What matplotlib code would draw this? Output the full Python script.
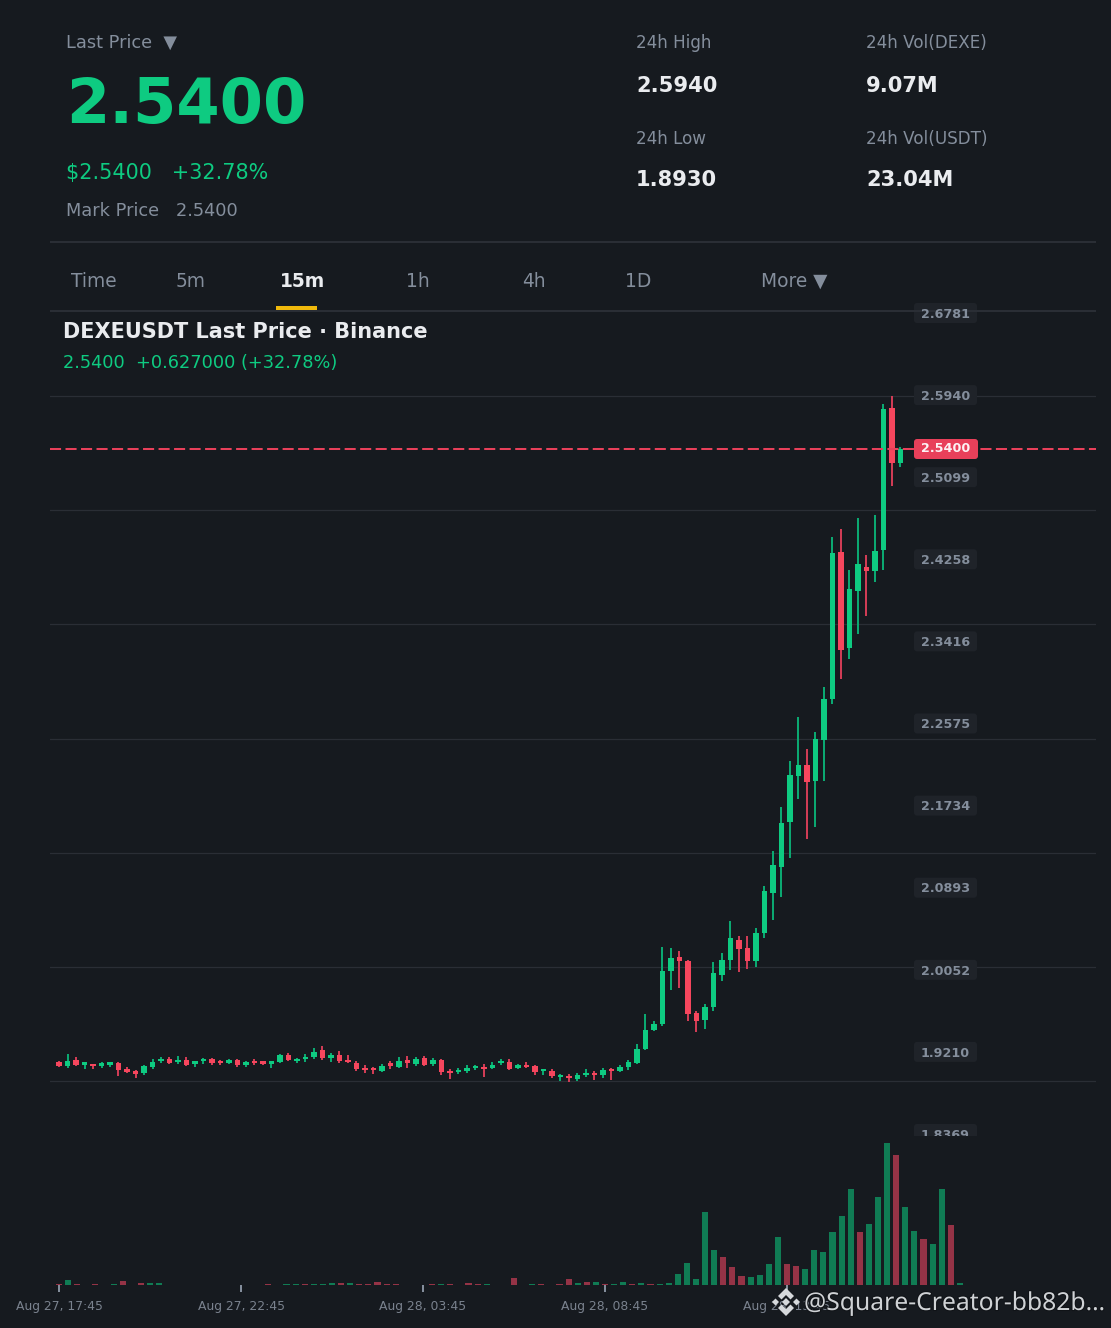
import matplotlib
matplotlib.use("Agg")
import matplotlib.pyplot as plt
import matplotlib.patheffects as path_effects
from matplotlib.lines import Line2D
from matplotlib.patches import FancyBboxPatch, Polygon, Rectangle
from matplotlib.transforms import Affine2D
import numpy as np

W, H = 1111, 1328
BG = "#161a1f"
GRID = "#2a2e35"
GRAY = "#848e9c"
WHITE = "#eaecef"
GREEN = "#0ecb81"
RED = "#f6465d"

# 15m candles
opens = [1.9135, 1.9094, 1.9156, 1.9105, 1.9115, 1.9094, 1.9105, 1.9125, 1.9064, 1.9043,
         1.9023, 1.9084, 1.9146, 1.9166, 1.9135, 1.9156, 1.9115, 1.9146, 1.9166, 1.9146,
         1.9125, 1.9156, 1.9105, 1.9146, 1.9146, 1.9115, 1.9135, 1.9207, 1.9146, 1.9166,
         1.9186, 1.9258, 1.9176, 1.9207, 1.9156, 1.9125, 1.9074, 1.9074, 1.9043, 1.9125,
         1.9084, 1.9156, 1.9115, 1.9176, 1.9115, 1.9156, 1.9043, 1.9033, 1.9043, 1.9074,
         1.9084, 1.9074, 1.9125, 1.9135, 1.9074, 1.9105, 1.9094, 1.9043, 1.9043, 1.8982,
         1.8992, 1.8961, 1.9002, 1.9023, 1.9002, 1.9064, 1.9043, 1.9084, 1.9125, 1.9268,
         1.9462, 1.9523, 2.0065, 2.0208, 2.0167, 1.9636, 1.9564, 1.9697, 2.0024, 2.0178,
         2.0382, 2.0300, 2.0167, 2.0454, 2.0862, 2.1128, 2.1588, 2.2058, 2.2170, 2.2007,
         2.2426, 2.2845, 2.4347, 2.3366, 2.3949, 2.4194, 2.4153, 2.4368, 2.5819, 2.5257]
highs = [1.9146, 1.9217, 1.9183, 1.9135, 1.9115, 1.9135, 1.9135, 1.9135, 1.9084, 1.9054,
         1.9105, 1.9166, 1.9186, 1.9186, 1.9197, 1.9186, 1.9146, 1.9176, 1.9176, 1.9156,
         1.9166, 1.9166, 1.9146, 1.9166, 1.9146, 1.9146, 1.9217, 1.9227, 1.9176, 1.9217,
         1.9278, 1.9299, 1.9227, 1.9248, 1.9207, 1.9146, 1.9105, 1.9084, 1.9115, 1.9146,
         1.9186, 1.9197, 1.9186, 1.9197, 1.9176, 1.9166, 1.9064, 1.9074, 1.9105, 1.9105,
         1.9115, 1.9135, 1.9166, 1.9166, 1.9115, 1.9135, 1.9105, 1.9064, 1.9064, 1.9013,
         1.9013, 1.9023, 1.9064, 1.9043, 1.9074, 1.9074, 1.9105, 1.9156, 1.9319, 1.9626,
         1.9554, 2.0310, 2.0300, 2.0270, 2.0178, 1.9656, 1.9728, 2.0157, 2.0249, 2.0576,
         2.0423, 2.0423, 2.0505, 2.0934, 2.1292, 2.1741, 2.2211, 2.2661, 2.2334, 2.2508,
         2.2968, 2.4501, 2.4582, 2.4163, 2.4695, 2.4317, 2.4725, 2.5860, 2.5942, 2.5420]
lows = [1.9084, 1.9074, 1.9094, 1.9064, 1.9064, 1.9074, 1.9084, 1.8992, 1.9023, 1.8972,
        1.9002, 1.9064, 1.9125, 1.9115, 1.9115, 1.9094, 1.9084, 1.9115, 1.9105, 1.9105,
        1.9115, 1.9084, 1.9084, 1.9105, 1.9105, 1.9074, 1.9125, 1.9146, 1.9125, 1.9135,
        1.9166, 1.9156, 1.9135, 1.9125, 1.9125, 1.9043, 1.9023, 1.9013, 1.9033, 1.9064,
        1.9074, 1.9074, 1.9094, 1.9094, 1.9094, 1.9002, 1.8961, 1.9013, 1.9023, 1.9054,
        1.8982, 1.9064, 1.9105, 1.9054, 1.9064, 1.9074, 1.9002, 1.9002, 1.8972, 1.8941,
        1.8931, 1.8941, 1.8982, 1.8951, 1.8972, 1.8951, 1.9033, 1.9054, 1.9115, 1.9258,
        1.9452, 1.9503, 1.9871, 1.9891, 1.9554, 1.9442, 1.9472, 1.9656, 1.9963, 2.0075,
        2.0055, 2.0086, 2.0106, 2.0402, 2.0586, 2.0821, 2.1220, 2.1823, 2.1414, 2.1537,
        2.2007, 2.2794, 2.3049, 2.3254, 2.3509, 2.3693, 2.4041, 2.4163, 2.5022, 2.5216]
closes = [1.9094, 1.9146, 1.9105, 1.9135, 1.9094, 1.9125, 1.9135, 1.9054, 1.9033, 1.9013,
          1.9094, 1.9135, 1.9166, 1.9125, 1.9156, 1.9105, 1.9146, 1.9166, 1.9125, 1.9125,
          1.9156, 1.9105, 1.9135, 1.9125, 1.9115, 1.9146, 1.9207, 1.9156, 1.9166, 1.9186,
          1.9237, 1.9176, 1.9207, 1.9146, 1.9135, 1.9064, 1.9054, 1.9054, 1.9094, 1.9094,
          1.9146, 1.9125, 1.9166, 1.9105, 1.9156, 1.9033, 1.9023, 1.9054, 1.9074, 1.9094,
          1.9064, 1.9105, 1.9146, 1.9064, 1.9105, 1.9084, 1.9033, 1.9064, 1.8992, 1.9002,
          1.8972, 1.9002, 1.9023, 1.9002, 1.9054, 1.9043, 1.9084, 1.9135, 1.9268, 1.9462,
          1.9523, 2.0065, 2.0198, 2.0167, 1.9626, 1.9554, 1.9697, 2.0045, 2.0178, 2.0402,
          2.0290, 2.0167, 2.0454, 2.0883, 2.1148, 2.1578, 2.2068, 2.2170, 2.1997, 2.2436,
          2.2845, 2.4337, 2.3346, 2.3969, 2.4225, 2.4153, 2.4358, 2.5809, 2.5257, 2.5400]

# volume has no readable scale in the picture, relative units
volumes = [1, 5, 1, 0, 1, 0, 1, 4, 0, 2,
           2, 2, 0, 0, 0, 0, 0, 0, 0, 0,
           0, 0, 0, 1, 0, 1, 1, 1, 1, 1,
           2, 2, 2, 1, 1, 3, 1, 1, 0, 0,
           0, 1, 1, 1, 0, 2, 1, 1, 0, 0,
           7, 0, 1, 1, 0, 1, 6, 2, 3, 3,
           1, 1, 3, 1, 2, 1, 1, 2, 11, 22,
           6, 73, 35, 28, 18, 9, 8, 10, 21, 48,
           21, 19, 16, 35, 33, 53, 69, 96, 53, 61,
           88, 142, 130, 78, 54, 46, 41, 96, 60, 2]

grid_prices = [2.5942, 2.4777, 2.3611, 2.2436, 2.1271, 2.0106, 1.8941]
axis_labels = ["2.6781", "2.5940", "2.5099", "2.4258", "2.3416", "2.2575",
               "2.1734", "2.0893", "2.0052", "1.9210", "1.8369"]
time_ticks = [0, 20, 40, 60, 80]
time_labels = ["Aug 27, 17:45", "Aug 27, 22:45", "Aug 28, 03:45", "Aug 28, 08:45", "Aug 28, 13:45"]
last_price = 2.54

opens = np.array(opens)
closes = np.array(closes)
highs = np.array(highs)
lows = np.array(lows)
volumes = np.array(volumes)
index = np.arange(len(opens))
is_up = closes >= opens

fig = plt.figure(figsize=(W / 100, H / 100), dpi=100, facecolor=BG)
plt.rcParams["font.family"] = "DejaVu Sans"

# everything outside the two axes is placed in image pixels, y going down
px = Affine2D().scale(1, -1).translate(0, H)


def add_axes_px(left, top, right, bottom):
    return fig.add_axes([left / W, 1 - bottom / H, (right - left) / W, (bottom - top) / H])


def label(x, y, text, size, color=GRAY, weight="normal", ha="left", zorder=3):
    # size is given in pixels, the figure is at 100 dpi
    return fig.text(x, y, text, transform=px, fontsize=size * 0.72, color=color, fontweight=weight,
                    ha=ha, va="center", zorder=zorder)


def hline(y, x0=50, x1=1096, color=GRID, width=2):
    fig.add_artist(Line2D([x0, x1], [y, y], transform=px, color=color, linewidth=width * 0.72,
                          solid_capstyle="butt"))


# price pane
ax = add_axes_px(50, 311, 1096, 1136)
ax.set_zorder(1)
ax.patch.set_alpha(0)
ax.set_xlim(-9 / 8.5, 1037 / 8.5)
ax.set_ylim(1.8379, 2.6810)
ax.axis("off")
for price in grid_prices:
    ax.axhline(price, color=GRID, linewidth=0.9, zorder=1)

body_colors = np.where(is_up, GREEN, RED)
wick_colors = np.where(is_up, "#0ba871", "#d03c55")
ax.vlines(index, lows, highs, colors=wick_colors, linewidth=1.44, zorder=2)
ax.bar(index, closes - opens, bottom=opens, width=0.7, color=body_colors, linewidth=0, zorder=3)
ax.axhline(last_price, color="#e8405a", linewidth=1.45, linestyle=(0, (5.5, 2.2)), zorder=4)

# volume pane, opaque so it cuts the lowest axis label
ax_vol = add_axes_px(50, 1136, 1096, 1285)
ax_vol.set_zorder(5)
ax_vol.set_facecolor(BG)
ax_vol.set_xlim(-9 / 9.1, 1037 / 9.1)
ax_vol.set_ylim(0, 149)
ax_vol.bar(index, volumes, width=0.66, color=np.where(is_up, "#107c54", "#953346"), linewidth=0)
for side in ax_vol.spines:
    ax_vol.spines[side].set_visible(False)
ax_vol.set_yticks([])
ax_vol.set_xticks(time_ticks)
ax_vol.set_xticklabels(time_labels, fontsize=8.95, color="#7a828e")
ax_vol.tick_params(axis="x", length=5, width=1.44, color=GRAY, pad=5.8)

# right hand price labels
for i, text in enumerate(axis_labels):
    y = 313 + i * 82.1
    fig.add_artist(FancyBboxPatch((914, y - 10), 63, 20, boxstyle="round,pad=0,rounding_size=3", transform=px,
                                  facecolor="#1f2329", edgecolor="none", zorder=2))
    label(945.5, y + 1.3, text, 12.8, color=GRAY, weight="bold", ha="center")
fig.add_artist(FancyBboxPatch((914, 439), 64, 20, boxstyle="round,pad=0,rounding_size=3", transform=px,
                              facecolor="#e8405a", edgecolor="none", zorder=2))
label(945.5, 449, "2.5400", 12.8, color="#fdf2f4", weight="bold", ha="center")

# header
label(66, 43, "Last Price  ▼", 17.7)
label(66, 105.5, "2.5400", 62.3, color=GREEN, weight="bold")
label(66, 172.5, "$2.5400   +32.78%", 20.8, color=GREEN)
label(66, 211, "Mark Price   2.5400", 17.7)
label(636, 43, "24h High", 16.7)
label(636, 85.5, "2.5940", 21, color=WHITE, weight="bold")
label(636, 139, "24h Low", 16.7)
label(636, 180, "1.8930", 21, color=WHITE, weight="bold")
label(866, 43, "24h Vol(DEXE)", 16.7)
label(866, 85.5, "9.07M", 21, color=WHITE, weight="bold")
label(866, 139, "24h Vol(USDT)", 16.7)
label(866, 180, "23.04M", 21, color=WHITE, weight="bold")
hline(242)

# interval tabs
for x, text in [(71, "Time"), (176, "5m"), (406, "1h"), (522, "4h"), (625, "1D"), (761, "More ▼")]:
    label(x, 281.5, text, 18.7)
label(280, 281.5, "15m", 18.7, color=WHITE, weight="bold")
fig.add_artist(Rectangle((276, 306), 41, 4, transform=px, facecolor="#f0b90b", edgecolor="none"))
hline(311)

label(63, 331.5, "DEXEUSDT Last Price · Binance", 20.9, color=WHITE, weight="bold")
label(63, 362.5, "2.5400  +0.627000 (+32.78%)", 17.7, color=GREEN)

# watermark, binance logo out of small polygons
logo = [[(786, 1288), (794, 1296), (790.5, 1299.5), (786, 1295), (781.5, 1299.5), (778, 1296)],
        [(786, 1316), (794, 1308), (790.5, 1304.5), (786, 1309), (781.5, 1304.5), (778, 1308)],
        [(772, 1302), (775.5, 1298.5), (779, 1302), (775.5, 1305.5)],
        [(800, 1302), (796.5, 1298.5), (793, 1302), (796.5, 1305.5)],
        [(786, 1298), (790, 1302), (786, 1306), (782, 1302)]]
for points in logo:
    fig.add_artist(Polygon(points, closed=True, transform=px, facecolor="#d6d9dc", edgecolor="none", zorder=10))
mark = label(804, 1303.5, "@Square-Creator-bb82b…", 24.7, color="#cfd2d5", zorder=10)
mark.set_fontfamily("Noto Sans")
mark.set_path_effects([path_effects.withStroke(linewidth=1.5, foreground="#101317")])

fig.savefig("out.png", dpi=100, facecolor=BG)
plt.close(fig)
